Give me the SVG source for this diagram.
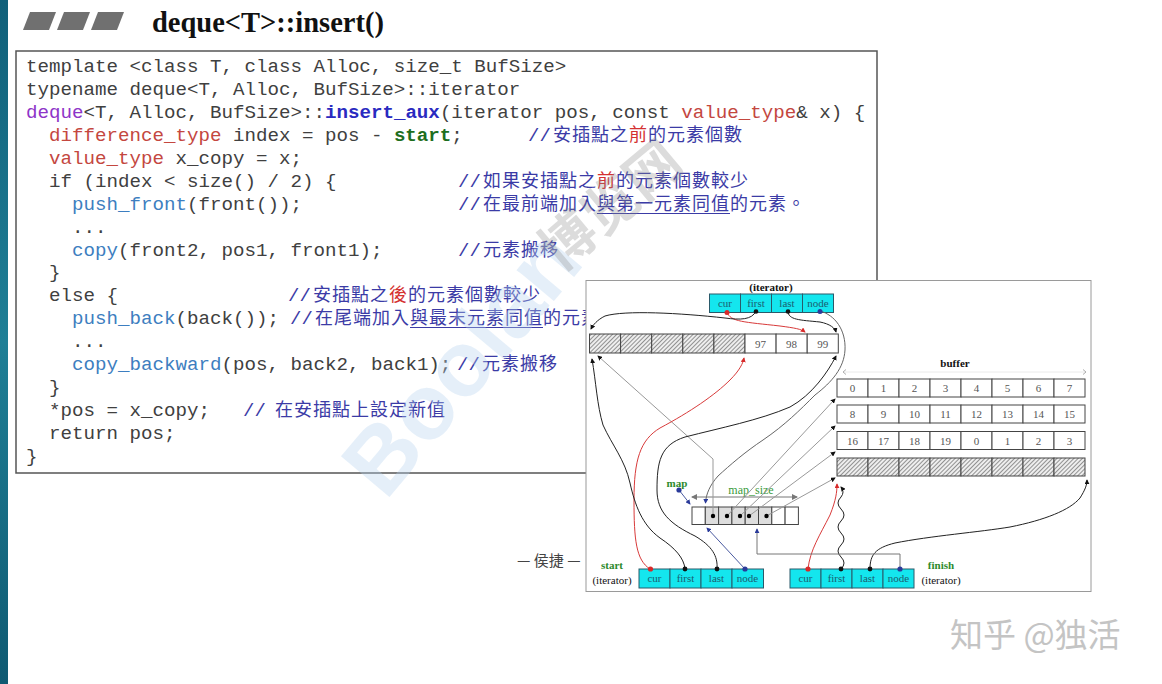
<svg xmlns="http://www.w3.org/2000/svg" width="1162" height="684" viewBox="0 0 1162 684">
<defs>
<style>
.code{font-family:"Liberation Mono","Courier New",monospace;font-size:19.17px;fill:#404040}
.kw{fill:#8e35c8}
.fn{fill:#2a2ac0;font-weight:bold}
.ty{fill:#c4473f}
.st{fill:#1e6e1e;font-weight:bold}
.bl{fill:#3d7ec0}
.cm{font-family:"Noto Sans CJK TC","Noto Sans CJK SC",sans-serif;font-size:18px;letter-spacing:1px;fill:#3b3ba6}
.sl{font-family:"Liberation Mono",monospace;font-size:19px;fill:#3b3ba6}
.red{fill:#d43030}
.ul{stroke:#3b3ba6;stroke-width:1}
.cell{fill:#fff;stroke:#444;stroke-width:1}
.hat{fill:url(#hatch);stroke:#444;stroke-width:1}
.it{fill:#14e6ee;stroke:#2a5a6a;stroke-width:1}
.itx{font-family:"Liberation Serif",serif;font-size:11px;fill:#1b6070;text-anchor:middle}
.num{font-family:"Liberation Serif",serif;font-size:11px;fill:#555;text-anchor:middle}
.lbl{font-family:"Liberation Serif",serif;font-size:11px;fill:#111;text-anchor:middle}
.grn{font-family:"Liberation Serif",serif;font-size:11px;font-weight:bold;fill:#2d8a2d;text-anchor:middle}
.ck{fill:none;stroke:#222;stroke-width:1}
.cr{fill:none;stroke:#d83a3a;stroke-width:1}
.cg{fill:none;stroke:#999;stroke-width:1}
.cb{fill:none;stroke:#4a5aa0;stroke-width:1}
</style>
<pattern id="hatch" width="3" height="3" patternUnits="userSpaceOnUse" patternTransform="rotate(45)">
<rect width="3" height="3" fill="#eee"/>
<line x1="0" y1="0" x2="0" y2="3" stroke="#444" stroke-width="1.1"/>
</pattern>
<linearGradient id="teal" x1="0" y1="0" x2="0" y2="1">
<stop offset="0" stop-color="#11607a"/><stop offset="0.5" stop-color="#1f7f96"/><stop offset="1" stop-color="#0f5a72"/>
</linearGradient>
<marker id="aK" viewBox="0 0 6 6" refX="5" refY="3" markerWidth="5" markerHeight="5" orient="auto"><path d="M0,0 L6,3 L0,6 z" fill="#111"/></marker>
<marker id="aR" viewBox="0 0 6 6" refX="5" refY="3" markerWidth="5" markerHeight="5" orient="auto"><path d="M0,0 L6,3 L0,6 z" fill="#d82a2a"/></marker>
<marker id="aB" viewBox="0 0 6 6" refX="5" refY="3" markerWidth="5" markerHeight="5" orient="auto"><path d="M0,0 L6,3 L0,6 z" fill="#2a3a9a"/></marker>
<marker id="aG" viewBox="0 0 6 6" refX="5" refY="3" markerWidth="6" markerHeight="6" orient="auto-start-reverse"><path d="M0,0 L6,3 L0,6 z" fill="#777"/></marker>
</defs>

<rect width="1162" height="684" fill="#fff"/>
<rect x="0" y="0" width="8" height="684" fill="url(#teal)"/>

<g id="title">
<path d="M30,12 L56,12 L49,30 L23,30 z" fill="#707070"/>
<path d="M64,12 L90,12 L83,30 L57,30 z" fill="#707070"/>
<path d="M98,12 L124,12 L117,30 L91,30 z" fill="#707070"/>
<text x="152" y="32" font-family="Liberation Serif,serif" font-size="28.5" font-weight="bold" fill="#111">deque&lt;T&gt;::insert()</text>
</g>

<g id="code">
<rect x="16" y="51" width="861" height="422" fill="#fff" stroke="#555" stroke-width="1.5"/>
<text class="code" x="26" y="72" xml:space="preserve">template &lt;class T, class Alloc, size_t BufSize&gt;</text>
<text class="code" x="26" y="95" xml:space="preserve">typename deque&lt;T, Alloc, BufSize&gt;::iterator</text>
<text class="code" x="26" y="118" xml:space="preserve"><tspan class="kw">deque</tspan>&lt;T, Alloc, BufSize&gt;::<tspan class="fn">insert_aux</tspan>(iterator pos, const <tspan class="ty">value_type</tspan>&amp; x) {</text>
<text class="code" x="49" y="141" xml:space="preserve"><tspan class="ty">difference_type</tspan> index = pos - <tspan class="st">start</tspan>;</text>
<text class="code" x="49" y="164" xml:space="preserve"><tspan class="ty">value_type</tspan> x_copy = x;</text>
<text class="code" x="49" y="187" xml:space="preserve">if (index &lt; size() / 2) {</text>
<text class="code" x="72" y="210" xml:space="preserve"><tspan class="bl">push_front</tspan>(front());</text>
<text class="code" x="72" y="233" xml:space="preserve">...</text>
<text class="code" x="72" y="256" xml:space="preserve"><tspan class="bl">copy</tspan>(front2, pos1, front1);</text>
<text class="code" x="49" y="278" xml:space="preserve">}</text>
<text class="code" x="49" y="301" xml:space="preserve">else {</text>
<text class="code" x="72" y="324" xml:space="preserve"><tspan class="bl">push_back</tspan>(back());</text>
<text class="code" x="72" y="347" xml:space="preserve">...</text>
<text class="code" x="72" y="370" xml:space="preserve"><tspan class="bl">copy_backward</tspan>(pos, back2, back1);</text>
<text class="code" x="49" y="393" xml:space="preserve">}</text>
<text class="code" x="49" y="416" xml:space="preserve">*pos = x_copy;</text>
<text class="code" x="49" y="439" xml:space="preserve">return pos;</text>
<text class="code" x="26" y="462" xml:space="preserve">}</text>

<text class="sl" x="528" y="141">//</text><text class="cm" x="553" y="141">安插點之<tspan class="red">前</tspan>的元素個數</text>
<text class="sl" x="458" y="187">//</text><text class="cm" x="483" y="187">如果安插點之<tspan class="red">前</tspan>的元素個數較少</text>
<text class="sl" x="458" y="210">//</text><text class="cm" x="483" y="210">在最前端加入與第一元素同值的元素。</text>
<line class="ul" x1="597" y1="213.5" x2="730" y2="213.5"/>
<text class="sl" x="458" y="256">//</text><text class="cm" x="483" y="256">元素搬移</text>
<text class="sl" x="288" y="301">//</text><text class="cm" x="313" y="301">安插點之<tspan class="red">後</tspan>的元素個數較少</text>
<text class="sl" x="290" y="324">//</text><text class="cm" x="315" y="324">在尾端加入與最末元素同值的元素</text>
<line class="ul" x1="410" y1="327.5" x2="543" y2="327.5"/>
<text class="sl" x="457" y="370">//</text><text class="cm" x="482" y="370">元素搬移</text>
<text class="sl" x="243" y="416">//</text><text class="cm" x="275" y="416">在安插點上設定新值</text>
</g>

<text x="517" y="566" font-family="Noto Sans CJK SC,sans-serif" font-size="15" fill="#444">— 侯捷 —</text>

<rect x="586" y="280.5" width="505" height="311" fill="#fff" stroke="#9a9a9a" stroke-width="1"/>

<g id="top-iterator">
<text class="lbl" x="771" y="291" font-weight="bold">(iterator)</text>
<rect class="it" x="709.5" y="294" width="31" height="18.5"/>
<rect class="it" x="740.5" y="294" width="31" height="18.5"/>
<rect class="it" x="771.5" y="294" width="31" height="18.5"/>
<rect class="it" x="802.5" y="294" width="31" height="18.5"/>
<text class="itx" x="725" y="307">cur</text><text class="itx" x="756" y="307">first</text><text class="itx" x="787" y="307">last</text><text class="itx" x="818" y="307">node</text>
</g>

<g id="top-buffer">
<rect class="hat" x="589.5" y="334" width="31.1" height="19"/>
<rect class="hat" x="620.6" y="334" width="31.1" height="19"/>
<rect class="hat" x="651.7" y="334" width="31.1" height="19"/>
<rect class="hat" x="682.8" y="334" width="31.1" height="19"/>
<rect class="hat" x="713.9" y="334" width="31.1" height="19"/>
<rect class="cell" x="745" y="334" width="31.1" height="19"/>
<rect class="cell" x="776.1" y="334" width="31.1" height="19"/>
<rect class="cell" x="807.2" y="334" width="31.1" height="19"/>
<text class="num" x="760.5" y="348">97</text><text class="num" x="791.6" y="348">98</text><text class="num" x="822.7" y="348">99</text>
</g>

<g id="buffers">
<text class="lbl" x="955" y="367" font-weight="bold" font-size="12">buffer</text>
<line x1="844" y1="372" x2="1085" y2="372" stroke="#e4e4e4" stroke-width="0.8"/>
<path d="M846,369.5 L843,372 L846,374.5" fill="none" stroke="#999" stroke-width="0.8"/>
<path d="M1083,369.5 L1086,372 L1083,374.5" fill="none" stroke="#999" stroke-width="0.8"/>
<g id="row0">
<rect class="cell" x="837" y="379" width="31" height="18"/><rect class="cell" x="868" y="379" width="31" height="18"/><rect class="cell" x="899" y="379" width="31" height="18"/><rect class="cell" x="930" y="379" width="31" height="18"/><rect class="cell" x="961" y="379" width="31" height="18"/><rect class="cell" x="992" y="379" width="31" height="18"/><rect class="cell" x="1023" y="379" width="31" height="18"/><rect class="cell" x="1054" y="379" width="31" height="18"/>
<text class="num" x="852.5" y="392">0</text><text class="num" x="883.5" y="392">1</text><text class="num" x="914.5" y="392">2</text><text class="num" x="945.5" y="392">3</text><text class="num" x="976.5" y="392">4</text><text class="num" x="1007.5" y="392">5</text><text class="num" x="1038.5" y="392">6</text><text class="num" x="1069.5" y="392">7</text>
</g>
<g id="row1">
<rect class="cell" x="837" y="405" width="31" height="18"/><rect class="cell" x="868" y="405" width="31" height="18"/><rect class="cell" x="899" y="405" width="31" height="18"/><rect class="cell" x="930" y="405" width="31" height="18"/><rect class="cell" x="961" y="405" width="31" height="18"/><rect class="cell" x="992" y="405" width="31" height="18"/><rect class="cell" x="1023" y="405" width="31" height="18"/><rect class="cell" x="1054" y="405" width="31" height="18"/>
<text class="num" x="852.5" y="418">8</text><text class="num" x="883.5" y="418">9</text><text class="num" x="914.5" y="418">10</text><text class="num" x="945.5" y="418">11</text><text class="num" x="976.5" y="418">12</text><text class="num" x="1007.5" y="418">13</text><text class="num" x="1038.5" y="418">14</text><text class="num" x="1069.5" y="418">15</text>
</g>
<g id="row2">
<rect class="cell" x="837" y="431.5" width="31" height="18"/><rect class="cell" x="868" y="431.5" width="31" height="18"/><rect class="cell" x="899" y="431.5" width="31" height="18"/><rect class="cell" x="930" y="431.5" width="31" height="18"/><rect class="cell" x="961" y="431.5" width="31" height="18"/><rect class="cell" x="992" y="431.5" width="31" height="18"/><rect class="cell" x="1023" y="431.5" width="31" height="18"/><rect class="cell" x="1054" y="431.5" width="31" height="18"/>
<text class="num" x="852.5" y="444.5">16</text><text class="num" x="883.5" y="444.5">17</text><text class="num" x="914.5" y="444.5">18</text><text class="num" x="945.5" y="444.5">19</text><text class="num" x="976.5" y="444.5">0</text><text class="num" x="1007.5" y="444.5">1</text><text class="num" x="1038.5" y="444.5">2</text><text class="num" x="1069.5" y="444.5">3</text>
</g>
<g id="row3">
<rect class="hat" x="837" y="458" width="31" height="18"/><rect class="hat" x="868" y="458" width="31" height="18"/><rect class="hat" x="899" y="458" width="31" height="18"/><rect class="hat" x="930" y="458" width="31" height="18"/><rect class="hat" x="961" y="458" width="31" height="18"/><rect class="hat" x="992" y="458" width="31" height="18"/><rect class="hat" x="1023" y="458" width="31" height="18"/><rect class="hat" x="1054" y="458" width="31" height="18"/>
</g>
</g>

<g id="map">
<text class="grn" x="677" y="487">map</text>
<text x="751" y="494" font-family="Liberation Serif,serif" font-size="12" fill="#3a9a3a" text-anchor="middle">map_size</text>
<line x1="692" y1="497" x2="797" y2="497" stroke="#777" stroke-width="1" marker-start="url(#aG)" marker-end="url(#aG)"/>
<rect class="cell" x="692" y="507" width="13.3" height="17.5"/>
<rect x="705.3" y="507" width="13.3" height="17.5" fill="#ddd" stroke="#444"/>
<rect x="718.6" y="507" width="13.3" height="17.5" fill="#ddd" stroke="#444"/>
<rect x="731.9" y="507" width="13.3" height="17.5" fill="#ddd" stroke="#444"/>
<rect x="745.2" y="507" width="13.3" height="17.5" fill="#ddd" stroke="#444"/>
<rect x="758.5" y="507" width="13.3" height="17.5" fill="#ddd" stroke="#444"/>
<rect class="cell" x="771.8" y="507" width="13.3" height="17.5"/>
<rect class="cell" x="785.1" y="507" width="13.3" height="17.5"/>
</g>

<g id="start-iterator">
<text class="grn" x="612" y="569">start</text>
<text class="lbl" x="612" y="584">(iterator)</text>
<rect class="it" x="639" y="569" width="31" height="19"/><rect class="it" x="670" y="569" width="31" height="19"/><rect class="it" x="701" y="569" width="31" height="19"/><rect class="it" x="732" y="569" width="31.5" height="19"/>
<text class="itx" x="654.5" y="582">cur</text><text class="itx" x="685.5" y="582">first</text><text class="itx" x="716.5" y="582">last</text><text class="itx" x="747.5" y="582">node</text>
</g>

<g id="finish-iterator">
<text class="grn" x="941" y="569">finish</text>
<text class="lbl" x="941" y="584">(iterator)</text>
<rect class="it" x="790" y="569" width="31" height="19"/><rect class="it" x="821" y="569" width="31" height="19"/><rect class="it" x="852" y="569" width="31" height="19"/><rect class="it" x="883" y="569" width="31" height="19"/>
<text class="itx" x="805.5" y="582">cur</text><text class="itx" x="836.5" y="582">first</text><text class="itx" x="867.5" y="582">last</text><text class="itx" x="898.5" y="582">node</text>
</g>

<g id="connectors">
<path class="cr" d="M727,312 C730,322 745,322 780,326 C795,328 801,329 805,332" marker-end="url(#aR)"/>
<path class="ck" d="M756,311 C752,320 740,320 725,318 C680,313 625,310 605,316 C597,320 593,325 591,329" marker-end="url(#aK)"/>
<path class="ck" d="M788,311 C788,320 800,320 820,322 C830,324 835,328 836,332" marker-end="url(#aK)"/>
<path fill="none" stroke="#666" stroke-width="1" d="M820,311 C835,315 846,330 845,350 C844,368 832,382 815,395 C800,410 785,425 763,440 C745,452 730,465 718,476 C710,485 706,494 705.5,503" marker-end="url(#aB)"/>
<path class="cg" d="M713,516 L713,459 L598,356" marker-end="url(#aK)"/>
<path class="cg" d="M727,516 L835,399" marker-end="url(#aK)"/>
<path class="cg" d="M740,516 L835,426" marker-end="url(#aK)"/>
<path class="cg" d="M749,516 L835,452" marker-end="url(#aK)"/>
<path class="cg" d="M766.5,516 L835,478" marker-end="url(#aK)"/>
<path class="cr" d="M650,569 C636,560 634,540 634,500 C634,460 640,440 660,428 C690,412 715,395 730,380 C740,370 743,363 744,358" marker-end="url(#aR)"/>
<path class="ck" d="M685,569 C684,558 675,548 660,538 C642,525 635,505 630,483 C625,460 612,445 603,425 C597,405 596,382 592,359" marker-end="url(#aK)"/>
<path class="ck" d="M717,569 C718,556 712,546 695,536 C670,524 657,512 657,490 C657,462 660,445 685,437 C720,428 760,420 790,407 C812,395 828,372 836,356" marker-end="url(#aK)"/>
<path class="cb" d="M745,569 L707,528" marker-end="url(#aB)"/>
<path class="cr" d="M808,569 C810,550 820,535 830,515 C836,500 837,492 837,484" marker-end="url(#aR)"/>
<path class="ck" d="M841,569 Q847,563 841,557 Q835,551 841,545 Q847,539 841,533 Q835,527 841,521 Q847,515 841,509 Q835,503 841,497 Q845,492 841,487" marker-end="url(#aK)"/>
<path class="ck" d="M870,569 C870,555 875,548 895,543 C930,536 980,532 1010,527 C1045,520 1070,510 1080,498 C1085,490 1087,485 1087,480" marker-end="url(#aK)"/>
<path fill="none" stroke="#777" stroke-width="1" d="M900,569 L900,554 L757,554 L757,529" marker-end="url(#aB)"/>
<path class="cb" d="M679,490 L690,504" marker-end="url(#aB)"/>
<g id="dots">
<circle cx="727" cy="312.5" r="2.5" fill="#d82a2a"/><circle cx="756" cy="311.5" r="2.3" fill="#111"/><circle cx="788" cy="311.5" r="2.3" fill="#111"/><circle cx="820" cy="311.5" r="2.5" fill="#2a3a9a"/>
<circle cx="713" cy="516" r="2.2" fill="#000"/><circle cx="727" cy="516" r="2.2" fill="#000"/><circle cx="740" cy="516" r="2.2" fill="#000"/><circle cx="749" cy="516" r="2.2" fill="#000"/><circle cx="766.5" cy="516" r="2.2" fill="#000"/>
<circle cx="679" cy="490" r="2.6" fill="#2a3a9a"/>
<circle cx="650.5" cy="569" r="2.6" fill="#d82a2a"/><circle cx="685" cy="569" r="2.4" fill="#111"/><circle cx="717" cy="569" r="2.4" fill="#111"/><circle cx="745" cy="569" r="2.6" fill="#2a3a9a"/>
<circle cx="808" cy="569" r="2.6" fill="#d82a2a"/><circle cx="841" cy="569" r="2.4" fill="#111"/><circle cx="870" cy="569" r="2.4" fill="#111"/><circle cx="900" cy="569" r="2.6" fill="#2a3a9a"/>
</g>
</g>

<g id="watermark">
<text x="465" y="392" transform="rotate(-50 465 365)" font-family="Liberation Sans,sans-serif" font-size="92" font-weight="bold" fill="#b4d2ef" fill-opacity="0.35" text-anchor="middle">Boolan</text>
<text x="610" y="225" transform="rotate(-40 610 205)" font-family="Noto Sans CJK SC,sans-serif" font-size="55" font-weight="bold" fill="#8a8a8a" fill-opacity="0.3" text-anchor="middle">博览网</text>
</g>

<text x="950" y="647" font-family="Noto Sans CJK SC,sans-serif" font-size="33" fill="#c4c4c4">知乎 @独活</text>
</svg>
